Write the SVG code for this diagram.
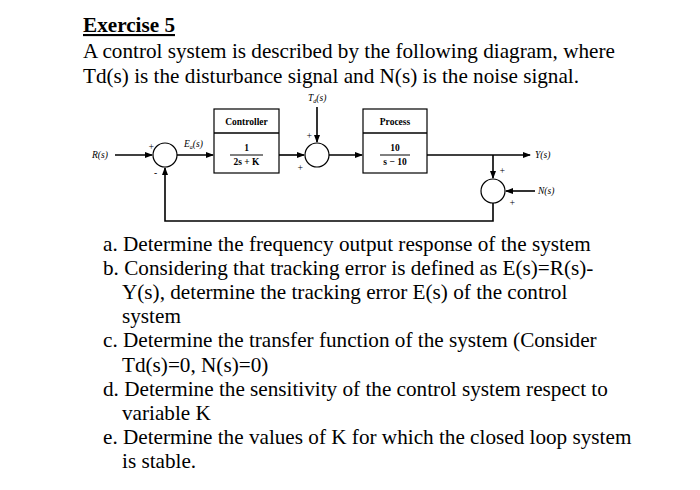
<svg xmlns="http://www.w3.org/2000/svg" width="700" height="490" viewBox="0 0 700 490">
<style>
.t{font-family:"Liberation Serif",serif;font-size:21.2px;fill:#000}
.s{font-family:"Liberation Serif",serif;font-size:9.5px;font-style:italic;fill:#000}
.b{font-family:"Liberation Serif",serif;font-size:9.5px;font-weight:bold;fill:#000}
.ln{stroke:#000;stroke-width:1.6;fill:none}
.bx{stroke:#000;stroke-width:1.2;fill:#fff}
</style>
<defs><marker id="a" markerWidth="8" markerHeight="6" refX="7" refY="3" orient="auto" markerUnits="userSpaceOnUse"><path d="M0,0L8,3L0,6z"/></marker></defs>
<rect width="700" height="490" fill="#fff"/>
<text class="t" x="83" y="32" font-weight="bold" text-decoration="underline">Exercise 5</text>
<text class="t" x="83" y="58">A control system is described by the following diagram, where</text>
<text class="t" x="83" y="83">Td(s) is the disturbance signal and N(s) is the noise signal.</text>
<g id="connectors">
<path class="ln" d="M115,155H152" marker-end="url(#a)"/>
<path class="ln" d="M177,155H213" marker-end="url(#a)"/>
<path class="ln" d="M279,155H304" marker-end="url(#a)"/>
<path class="ln" d="M317,107V142" marker-end="url(#a)"/>
<path class="ln" d="M329,155H362" marker-end="url(#a)"/>
<path class="ln" d="M427,155H530" marker-end="url(#a)"/>
<path class="ln" d="M493,155V178" marker-end="url(#a)"/>
<path class="ln" d="M535,191H506" marker-end="url(#a)"/>
<path class="ln" d="M493,203V221H165V168" marker-end="url(#a)"/>
</g>
<g id="sum1"><circle class="bx" cx="165" cy="155" r="12"/><text class="s" x="148" y="150">+</text><text class="s" x="154" y="176">-</text></g>
<g id="sum2"><circle class="bx" cx="317" cy="155" r="12"/><text class="s" x="306" y="139">+</text><text class="s" x="297" y="171">+</text></g>
<g id="sum3"><circle class="bx" cx="493" cy="191" r="12"/><text class="s" x="499" y="174">+</text><text class="s" x="509" y="206">+</text></g>
<g id="controller"><rect class="bx" x="214" y="109" width="65" height="64"/><line class="ln" stroke-width="1" x1="214" y1="133" x2="279" y2="133"/><text class="b" x="246.5" y="125" text-anchor="middle">Controller</text><text class="b" x="246.5" y="151" text-anchor="middle">1</text><line x1="230" y1="155" x2="263" y2="155" stroke="#000"/><text class="b" x="246.5" y="165" text-anchor="middle">2s + K</text></g>
<g id="process"><rect class="bx" x="363" y="109" width="64" height="64"/><line class="ln" stroke-width="1" x1="363" y1="133" x2="427" y2="133"/><text class="b" x="395" y="125" text-anchor="middle">Process</text><text class="b" x="395" y="151" text-anchor="middle">10</text><line x1="380" y1="155" x2="410" y2="155" stroke="#000"/><text class="b" x="395" y="165" text-anchor="middle">s − 10</text></g>
<g id="labels">
<text class="s" x="92" y="158">R(s)</text>
<text class="s" x="184" y="147">E<tspan font-size="6" dy="2">a</tspan><tspan dy="-2">(s)</tspan></text>
<text class="s" x="308" y="101">T<tspan font-size="6" dy="2">d</tspan><tspan dy="-2">(s)</tspan></text>
<text class="s" x="535" y="158">Y(s)</text>
<text class="s" x="538" y="194">N(s)</text>
</g>
<text class="t" x="103" y="251">a. Determine the frequency output response of the system</text>
<text class="t" x="103" y="275">b. Considering that tracking error is defined as E(s)=R(s)-</text>
<text class="t" x="122" y="299">Y(s), determine the tracking error E(s) of the control</text>
<text class="t" x="122" y="323">system</text>
<text class="t" x="103" y="347">c. Determine the transfer function of the system (Consider</text>
<text class="t" x="122" y="372">Td(s)=0, N(s)=0)</text>
<text class="t" x="103" y="396">d. Determine the sensitivity of the control system respect to</text>
<text class="t" x="122" y="420">variable K</text>
<text class="t" x="103" y="444">e. Determine the values of K for which the closed loop system</text>
<text class="t" x="122" y="468">is stable.</text>
</svg>
